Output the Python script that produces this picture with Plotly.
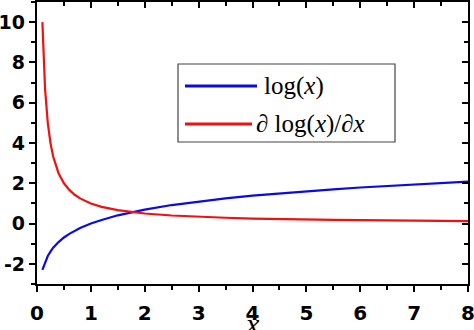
import plotly.graph_objects as go

# Values
x_vals = [0.1, 0.15, 0.2, 0.25, 0.3, 0.4, 0.5, 0.6, 0.7, 0.8, 1.0, 1.2, 1.5, 1.75,
          2.0, 2.5, 3.0, 3.5, 4.0, 4.5, 5.0, 5.5, 6.0, 6.5, 7.0, 7.5, 8.0]
log_vals = [-2.3, -1.9, -1.61, -1.39, -1.2, -0.92, -0.69, -0.51, -0.36, -0.22, 0.0,
            0.18, 0.41, 0.56, 0.69, 0.92, 1.1, 1.25, 1.39, 1.5, 1.61, 1.7, 1.79,
            1.87, 1.95, 2.01, 2.08]
deriv_vals = [10.0, 6.67, 5.0, 4.0, 3.33, 2.5, 2.0, 1.67, 1.43, 1.25, 1.0, 0.83,
              0.67, 0.57, 0.5, 0.4, 0.33, 0.29, 0.25, 0.22, 0.2, 0.18, 0.17, 0.15,
              0.14, 0.13, 0.125]
x_ticks = [0, 1, 2, 3, 4, 5, 6, 7, 8]
y_ticks = [-2, 0, 2, 4, 6, 8, 10]
legend_names = ["log(<i>x</i>)", "∂ log(<i>x</i>)/∂<i>x</i>"]
line_colors = ["#0a0ae6", "#f01010"]

fig = go.Figure()
fig.add_trace(go.Scatter(x=x_vals, y=log_vals, mode="lines",
                         line=dict(color=line_colors[0], width=2.2), showlegend=False))
fig.add_trace(go.Scatter(x=x_vals, y=deriv_vals, mode="lines",
                         line=dict(color=line_colors[1], width=2.2), showlegend=False))
# invisible trace to anchor the mirrored (top/right) axes
fig.add_trace(go.Scatter(x=[None], y=[None], xaxis="x2", yaxis="y2", showlegend=False,
                         hoverinfo="skip"))

tickfont = dict(family="DejaVu Sans", size=19, color="black", weight="bold")
common = dict(showgrid=False, zeroline=False, showline=True, linecolor="black",
              linewidth=2.3, tickcolor="black", tickwidth=2, ticklen=6, automargin=False)

fig.update_layout(
    width=474, height=330,
    margin=dict(l=37, r=6, t=2, b=46),
    plot_bgcolor="white", paper_bgcolor="white",
    showlegend=False,
    xaxis=dict(range=[0, 8], tickvals=x_ticks, ticktext=[str(v) for v in x_ticks],
               ticks="outside", tickfont=dict(tickfont, size=20), ticklabeloverflow="allow",
               ticklabelstandoff=4,
               minor=dict(ticks="outside", dtick=0.5, ticklen=4, tickwidth=2,
                          tickcolor="black"),
               **common),
    yaxis=dict(range=[-3, 11], tickvals=y_ticks, ticktext=[str(v) for v in y_ticks],
               ticks="outside", tickfont=tickfont, ticklabeloverflow="allow",
               minor=dict(ticks="outside", dtick=1, ticklen=4, tickwidth=2,
                          tickcolor="black"),
               **common),
    xaxis2=dict(range=[0, 8], overlaying="x", side="top", anchor="y2", tickvals=x_ticks,
                ticks="inside", showticklabels=False,
                minor=dict(ticks="inside", dtick=0.5, ticklen=4, tickwidth=2,
                           tickcolor="black"),
                **common),
    yaxis2=dict(range=[-3, 11], overlaying="y", side="right", anchor="x2", tickvals=y_ticks,
                ticks="inside", showticklabels=False,
                minor=dict(ticks="inside", dtick=1, ticklen=4, tickwidth=2,
                           tickcolor="black"),
                **common),
)

# x-axis title (italic serif, partially cut at bottom)
fig.add_annotation(text="<i>x</i>", xref="paper", yref="paper", x=0.5, y=0,
                   xanchor="center", yanchor="top", yshift=-21, showarrow=False,
                   font=dict(family="Liberation Serif, DejaVu Serif", size=30, color="black"))

# legend drawn manually: box, line samples and labels (paper coords)
pw, ph = 474 - 37 - 6, 330 - 2 - 46
def px(xp):
    return (xp - 37) / pw
def py(yp):
    return 1 - (yp - 2) / ph

fig.add_shape(type="rect", xref="paper", yref="paper", x0=px(178), x1=px(395),
              y0=py(142), y1=py(64), line=dict(color="#444444", width=1.2),
              fillcolor="white", layer="above")
for i, (name, col) in enumerate(zip(legend_names, line_colors)):
    yl = [86, 124][i]
    fig.add_shape(type="line", xref="paper", yref="paper", x0=px(185), x1=px([257, 252][i]),
                  y0=py(yl), y1=py(yl), line=dict(color=col, width=3), layer="above")
    fig.add_annotation(text=name, xref="paper", yref="paper", x=px([262, 254][i]), y=py(yl),
                       xanchor="left", yanchor="middle", showarrow=False,
                       font=dict(family="Liberation Serif, DejaVu Serif", size=25,
                                 color="black"))

fig.write_html("out.html", config={"displayModeBar": False},
               post_script="document.body.style.margin='0';document.body.style.padding='0';"
                           "document.body.style.overflow='hidden';")
